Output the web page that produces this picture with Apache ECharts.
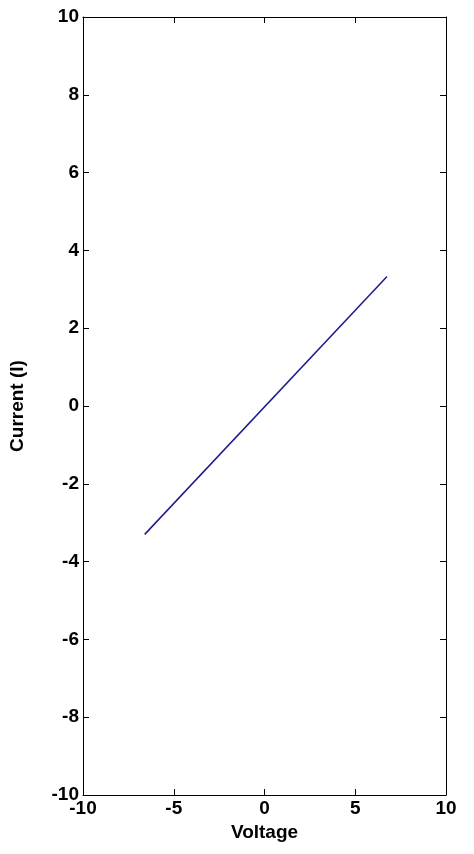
<!DOCTYPE html><html><head><meta charset="utf-8"><script src="https://cdn.jsdelivr.net/npm/echarts@6/dist/echarts.min.js"></script>
<style>html,body{margin:0;padding:0;background:#fff}#c{width:474px;height:854px}</style></head><body><div id="c"></div><script>
const xData=[-6.6,6.75];
const yData=[-3.3,3.33];
const xTicks=[-10,-5,0,5,10];
const yTicks=[-10,-8,-6,-4,-2,0,2,4,6,8,10];
const font={fontFamily:'Liberation Sans',fontWeight:'bold',fontSize:19,color:'#000'};
const ax=(min,max,interval,pos,show,name)=>({type:'value',min,max,interval,position:pos,name,
 nameLocation:'middle',nameGap:pos==='left'?56:26,nameTextStyle:Object.assign({},font,{fontSize:19}),
 axisLine:{show:true,onZero:false,lineStyle:{color:'#000',width:1}},
 axisTick:{show:true,inside:true,length:6,lineStyle:{color:'#000'}},
 axisLabel:Object.assign({show},font,{margin:pos==='left'?4:4}),splitLine:{show:false}});
const ch=echarts.init(document.getElementById('c'));
ch.setOption({animation:false,
 grid:{left:70,right:28,top:17,bottom:59,show:false},
 xAxis:[ax(-10,10,5,'bottom',true,'Voltage'),ax(-10,10,5,'top',false,'')],
 yAxis:[ax(-10,10,2,'left',true,'Current (I)'),ax(-10,10,2,'right',false,'')],
 series:[{type:'line',data:xData.map((x,i)=>[x,yData[i]]),showSymbol:false,lineStyle:{color:'#1a1a8c',width:1.5}}]});
</script></body></html>
